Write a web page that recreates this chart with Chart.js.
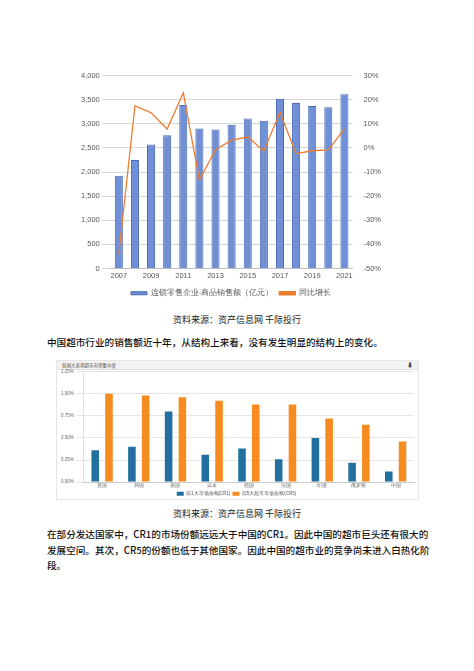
<!DOCTYPE html>
<html>
<head>
<meta charset="utf-8">
<script src="https://cdn.jsdelivr.net/npm/chart.js"></script>
<style>
  body { margin: 0; background: #fff; font-family: "Noto Sans CJK SC", "Noto Sans", sans-serif; }
  #page { position: relative; width: 474px; height: 671px; overflow: hidden; }
  .cap { position: absolute; left: 0; width: 474px; text-align: center; font-size: 9px; color: #222; }
  .para { position: absolute; left: 47px; font-size: 9.6px; line-height: 15.5px; color: #111; font-weight: 500; white-space: nowrap; }
  #box2 { position: absolute; left: 56px; top: 360px; width: 361px; height: 138px; border: 1px solid #e6e6e6; background: #fff; }
  #box2 .hdr { height: 8px; background: #f2f2f2; border-bottom: 1px solid #e2e2e2; font-size: 4.5px; line-height: 8px; padding-left: 5px; color: #444; position: relative; }
  #box2 .hdr span { position: absolute; right: 5px; top: 0; font-size: 6px; }
</style>
</head>
<body>
<div id="page">
  <div style="position:absolute;left:78px;top:68px;width:306px;height:239px;">
    <canvas id="c1"></canvas>
  </div>
  <div class="cap" style="top:313px;">资料来源：资产信息网 千际投行</div>
  <div class="para" style="top:335px;">中国超市行业的销售额近十年，从结构上来看，没有发生明显的结构上的变化。</div>
  <div id="box2">
    <div class="hdr">各国大卖场超市市场集中度<span>⬇</span></div>
    <div style="position:absolute;left:0;top:6px;width:361px;height:139px;"><canvas id="c2"></canvas></div>
  </div>
  <div class="cap" style="top:507px;">资料来源：资产信息网 千际投行</div>
  <div class="para" style="top:527px;">在部分发达国家中，CR1的市场份额远远大于中国的CR1。因此中国的超市巨头还有很大的<br>发展空间。其次，CR5的份额也低于其他国家。因此中国的超市业的竞争尚未进入白热化阶<br>段。</div>
</div>
<script>
// chart 1: 连锁零售企业商品销售额 + 同比增长
const years = ['2007','2008','2009','2010','2011','2012','2013','2014','2015','2016','2017','2018','2019','2020','2021'];
const sales = [1920, 2250, 2570, 2760, 3390, 2900, 2880, 2980, 3110, 3060, 3520, 3430, 3370, 3340, 3610];
const growth = [-44, 17.5, 14.5, 7.8, 22.8, -13.3, -0.8, 3.2, 4.5, -1.3, 14.8, -2.4, -1.2, -0.8, 7.9];

// chart 2: 各国 CR1 / CR5
const countries = ['英国','韩国','美国','日本','德国','法国','印度','俄罗斯','中国'];
const cr1 = [0.36, 0.40, 0.80, 0.31, 0.38, 0.26, 0.50, 0.22, 0.12];
const cr5 = [1.00, 0.98, 0.96, 0.92, 0.88, 0.88, 0.72, 0.65, 0.46];

const tickColor = '#595959';
const gridColor = '#d9d9d9';

new Chart(document.getElementById('c1'), {
  type: 'bar',
  data: {
    labels: years,
    datasets: [
      {
        type: 'line',
        label: '同比增长',
        data: growth,
        yAxisID: 'y1',
        borderColor: '#ed7d31',
        backgroundColor: '#ed7d31',
        borderWidth: 1.3,
        pointRadius: 0,
        tension: 0,
        order: 0
      },
      {
        label: '连锁零售企业-商品销售额（亿元）',
        data: sales,
        yAxisID: 'y',
        backgroundColor: '#6f8fd6',
        borderColor: '#4a68b0',
        borderWidth: 1,
        barPercentage: 0.5,
        categoryPercentage: 1,
        order: 1
      }
    ]
  },
  options: {
    responsive: true,
    maintainAspectRatio: false,
    animation: false,
    layout: { padding: { left: 0, right: 0, top: 4, bottom: 0 } },
    plugins: {
      legend: {
        position: 'bottom',
        reverse: true,
        labels: { boxWidth: 16, boxHeight: 3, color: tickColor, font: { size: 7.5 }, padding: 6 }
      },
      tooltip: { enabled: false }
    },
    scales: {
      x: {
        grid: { display: false, drawTicks: false },
        border: { color: '#bfbfbf' },
        ticks: {
          color: tickColor, font: { size: 7.5 }, maxRotation: 0, autoSkip: false, padding: 3,
          callback: function (v, i) { return i % 2 === 0 ? this.getLabelForValue(v) : ''; }
        }
      },
      y: {
        position: 'left',
        min: 0, max: 4000,
        ticks: { stepSize: 500, color: tickColor, font: { size: 7.5 },
          callback: v => v.toLocaleString('en-US') },
        grid: { color: gridColor },
        border: { display: false }
      },
      y1: {
        position: 'right',
        min: -50, max: 30,
        ticks: { stepSize: 10, color: tickColor, font: { size: 7.5 }, callback: v => v + '%' },
        grid: { display: false },
        border: { display: false }
      }
    }
  }
});

new Chart(document.getElementById('c2'), {
  type: 'bar',
  data: {
    labels: countries,
    datasets: [
      { label: '前1大市场份额(CR1)', data: cr1, backgroundColor: '#21709f', barPercentage: 0.55, categoryPercentage: 0.75 },
      { label: '前5大超市市场份额(CR5)', data: cr5, backgroundColor: '#f68b1f', barPercentage: 0.55, categoryPercentage: 0.75 }
    ]
  },
  options: {
    responsive: true,
    maintainAspectRatio: false,
    animation: false,
    layout: { padding: { left: 2, right: 4, top: 4, bottom: 0 } },
    plugins: {
      legend: {
        position: 'bottom',
        labels: { boxWidth: 7, boxHeight: 4, color: '#555', font: { size: 4.5 }, padding: 2 }
      },
      tooltip: { enabled: false }
    },
    scales: {
      x: {
        grid: { display: false, drawTicks: false },
        border: { color: '#cccccc' },
        ticks: { color: '#666', font: { size: 4.5 }, maxRotation: 0, padding: 1 }
      },
      y: {
        min: 0, max: 1.25,
        ticks: { stepSize: 0.25, color: '#666', font: { size: 4.5 }, padding: 2,
          callback: v => v.toFixed(2) + '%' },
        grid: { color: '#e6e6e6' },
        border: { display: true, color: '#e0e0e0' }
      }
    }
  }
});
</script>
</body>
</html>
